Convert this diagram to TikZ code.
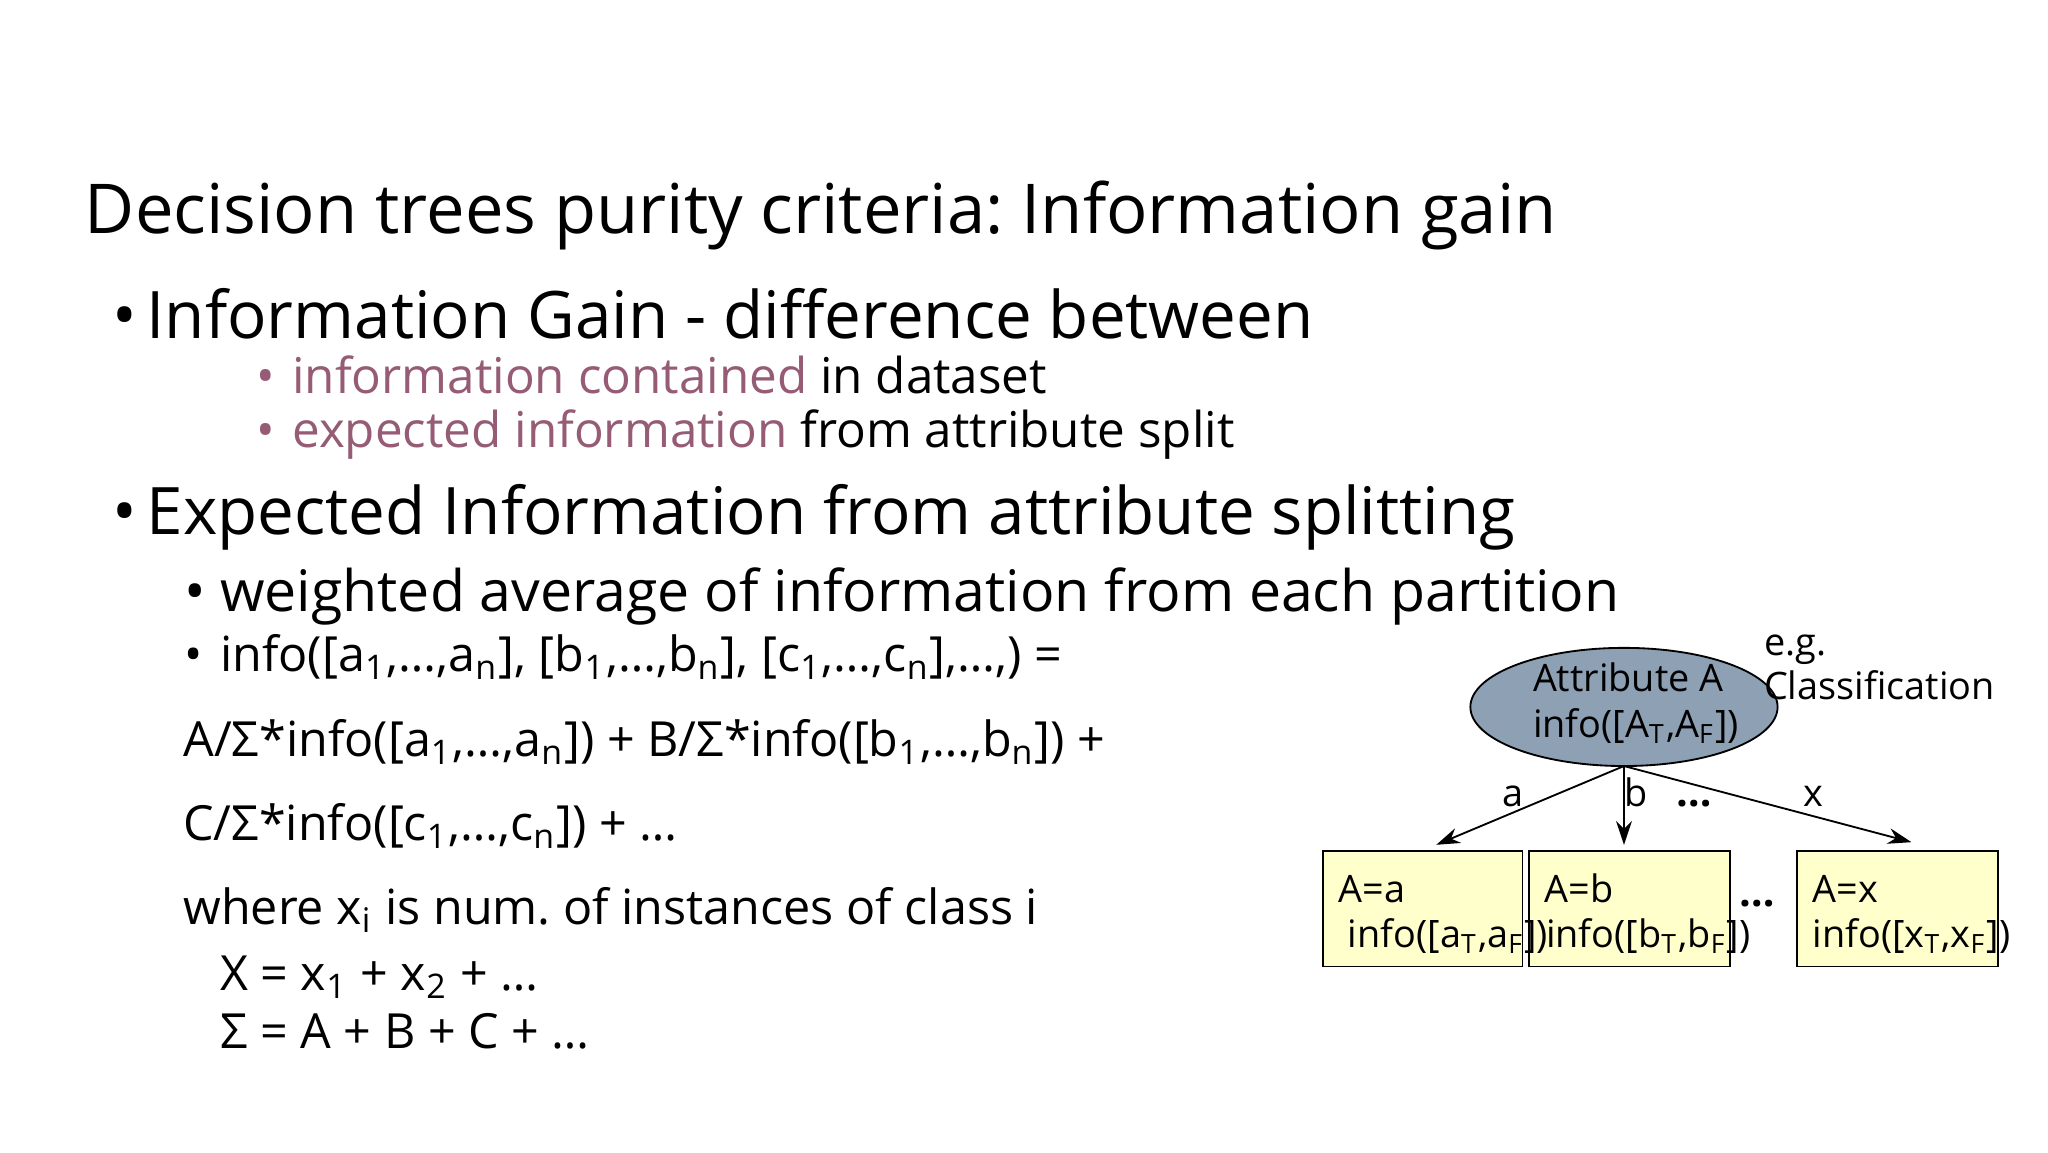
\documentclass[tikz,border=0pt]{standalone}
\usepackage{fontspec}
\setmainfont{Open Sans}
\usetikzlibrary{shapes.geometric,arrows.meta}
\definecolor{mauve}{RGB}{150,92,118}
\definecolor{ellfill}{RGB}{141,160,180}
\definecolor{boxfill}{RGB}{255,255,204}
\frenchspacing
\tikzset{
 txt/.style={anchor=base west,inner sep=0pt},
 ttl/.style={txt,font=\fontsize{14.9}{18}\selectfont},
 lone/.style={txt,font=\fontsize{14.2}{17}\selectfont},
 lsub/.style={txt,font=\fontsize{10.7}{13}\selectfont},
 ltwo/.style={txt,font=\fontsize{12.4}{15}\selectfont},
 eq/.style={txt,font=\fontsize{10.5}{13}\selectfont},
 tree/.style={txt,font=\fontsize{8.2}{10}\selectfont},
 ybox/.style={draw=black,line width=0.4pt,fill=boxfill,anchor=north west,inner sep=0pt},
 arr/.style={-{Stealth[length=1.8mm,width=1.2mm]},line width=0.4pt}
}
\newcommand{\sbs}[1]{\textsubscript{#1}}
\begin{document}
\begin{tikzpicture}
\useasboundingbox[fill=white] (0,0) rectangle (15.6,8.775);
\node[ttl] (title) at (0.64,7.0) {Decision trees purity criteria: Information gain};
\node[lone] (b1) at (0.85,6.2) {•};
\node[lone] (t1) at (1.11,6.2) {Information Gain - difference between};
\node[lsub,text=mauve] (b11) at (1.95,5.78) {•};
\node[lsub] (t11) at (2.22,5.78) {\textcolor{mauve}{information contained} in dataset};
\node[lsub,text=mauve] (b12) at (1.95,5.37) {•};
\node[lsub] (t12) at (2.22,5.37) {\textcolor{mauve}{expected information} from attribute split};
\node[lone] (b2) at (0.85,4.7) {•};
\node[lone] (t2) at (1.11,4.7) {Expected Information from attribute splitting};
\node[ltwo] (b21) at (1.4,4.12) {•};
\node[ltwo] (t21) at (1.67,4.12) {weighted average of information from each partition};
\node[eq] (b22) at (1.4,3.66) {•};
\node[eq] (e1) at (1.67,3.66) {info([a\sbs{1},…,a\sbs{n}], [b\sbs{1},…,b\sbs{n}], [c\sbs{1},…,c\sbs{n}],…,) =};
\node[eq] (e2) at (1.39,3.01) {A/Σ*info([a\sbs{1},…,a\sbs{n}]) + B/Σ*info([b\sbs{1},…,b\sbs{n}]) +};
\node[eq] (e3) at (1.39,2.37) {C/Σ*info([c\sbs{1},…,c\sbs{n}]) + …};
\node[eq] (e4) at (1.39,1.73) {where x\sbs{i} is num. of instances of class i};
\node[eq] (e5) at (1.67,1.23) {X = x\sbs{1} + x\sbs{2} + …};
\node[eq] (e6) at (1.67,0.79) {Σ = A + B + C + …};
% tree
\begin{scope}[xshift=-0.06cm,yshift=0.03cm]
\node[ellipse,draw=black,line width=0.4pt,fill=ellfill,minimum width=2.34cm,minimum height=0.9cm,inner sep=0pt] (root) at (12.43,3.36) {};
\node[tree] (r1) at (11.73,3.48) {Attribute A};
\node[tree] (r2) at (11.73,3.13) {info([A\sbs{T},A\sbs{F}])};
\node[tree] (eg1) at (13.49,3.75) {e.g.};
\node[tree] (eg2) at (13.49,3.42) {Classification};
\node[ybox,minimum width=1.52cm,minimum height=0.88cm] (ba) at (10.13,2.27) {};
\node[ybox,minimum width=1.53cm,minimum height=0.88cm] (bb) at (11.70,2.27) {};
\node[ybox,minimum width=1.53cm,minimum height=0.88cm] (bx) at (13.74,2.27) {};
\node[tree] (ta1) at (10.25,1.87) {A=a};
\node[tree] (ta2) at (10.32,1.53) {info([a\sbs{T},a\sbs{F}])};
\node[tree] (tb1) at (11.82,1.87) {A=b};
\node[tree] (tb2) at (11.83,1.53) {info([b\sbs{T},b\sbs{F}])};
\node[tree] (tx1) at (13.86,1.87) {A=x};
\node[tree] (tx2) at (13.86,1.53) {info([x\sbs{T},x\sbs{F}])};
\node[tree,font=\fontsize{9}{10}\selectfont\bfseries] (dots2) at (13.30,1.84) {…};
\coordinate (top) at (12.43,2.91);
\coordinate (ea) at (11.00,2.31);
\coordinate (eb) at (12.43,2.31);
\coordinate (ex) at (14.62,2.33);
\draw[arr] (top) -- (ea);
\draw[arr] (top) -- (eb);
\draw[arr] (top) -- (ex);
\node[tree] (la) at (11.50,2.60) {a};
\node[tree] (lb) at (12.43,2.60) {b};
\node[tree,font=\fontsize{9}{10}\selectfont\bfseries] (dots1) at (12.82,2.60) {…};
\node[tree] (lx) at (13.79,2.60) {x};
\end{scope}
\end{tikzpicture}
\end{document}
